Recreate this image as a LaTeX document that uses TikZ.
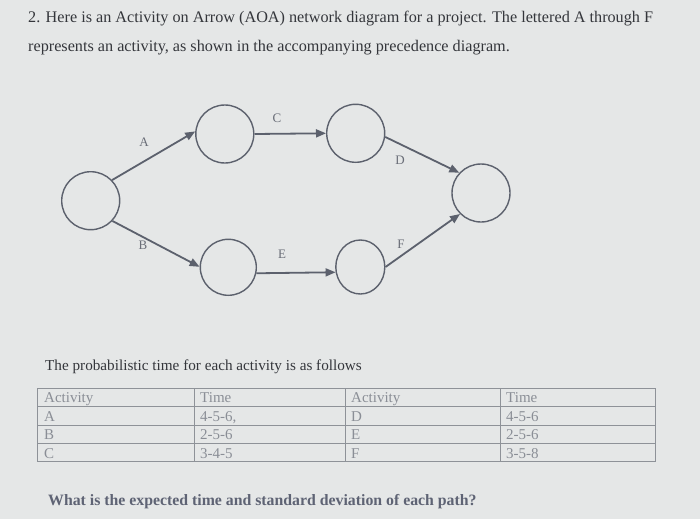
\documentclass[tikz,border=0pt]{standalone}
\usepackage{fontspec}
\setmainfont{Liberation Serif}
\usetikzlibrary{arrows.meta,shapes.geometric}
\definecolor{bg}{HTML}{E5E7E7}
\definecolor{ink}{HTML}{34363B}
\definecolor{edgec}{HTML}{5C616D}
\definecolor{lbl}{HTML}{6A6E78}
\definecolor{tbl}{HTML}{8E9298}
\definecolor{tbltxt}{HTML}{8A8E96}
\definecolor{qtxt}{HTML}{5E6374}
\begin{document}
\begin{tikzpicture}[x=1pt,y=-1pt,
 event/.style={circle,draw=edgec,line width=1.4pt,minimum size=58pt,inner sep=0pt},
 eventoval/.style={ellipse,draw=edgec,line width=1.4pt,minimum width=49pt,minimum height=54pt,inner sep=0pt},
 act/.style={draw=edgec,line width=1.8pt,-{Triangle[length=10pt,width=8pt]}},
 lab/.style={text=lbl,font=\fontsize{13}{13}\selectfont,inner sep=0pt},
 head/.style={anchor=base west,text=ink,font=\fontsize{16.2}{16.2}\selectfont,inner sep=0pt},
 cell/.style={anchor=base west,text=tbltxt,font=\fontsize{15}{15}\selectfont,inner sep=0pt},
 gridline/.style={draw=tbl,line width=1pt},
 quest/.style={anchor=base west,text=qtxt,font=\bfseries\fontsize{15.8}{15.8}\selectfont,inner sep=0pt}]
\fill[bg] (0,0) rectangle (700,519);
\useasboundingbox (0,0) rectangle (700,519);

% heading
\node[head] (h1) at (28,23) {2. Here is an Activity on Arrow (AOA) network diagram for a project. The lettered A through F};
\node[head] (h2) at (28,52) {represents an activity, as shown in the accompanying precedence diagram.};

% network
\node[event] (s) at (90.7,200.7) {};
\node[event] (a) at (224.8,134) {};
\node[event] (c) at (355.7,133.3) {};
\node[event] (t) at (481,193) {};
\node[event,minimum size=56pt] (b) at (228.3,267.3) {};
\node[eventoval] (e) at (360.3,267) {};

\draw[act] (s.44) -- (a.175);
\draw[act] (a.0) -- (c.180);
\draw[act] (c.-7) -- (t.137);
\draw[act] (s.-43) -- (b.179);
\draw[act] (b.-12) -- (e.192);
\draw[act] (e.0) -- (t.225);

\node[lab] (la) at (144,142) {A};
\node[lab] (lc) at (277,118) {C};
\node[lab] (ld) at (400,160) {D};
\node[lab] (lb) at (143,245) {B};
\node[lab] (le) at (282,254) {E};
\node[lab] (lf) at (401,244) {F};

% table
\node[anchor=base west,text=ink,font=\fontsize{15.2}{15.2}\selectfont,inner sep=0pt] (title) at (45,370) {The probabilistic time for each activity is as follows};

\foreach \y in {388,406.5,425,443.5,461.5} \draw[gridline] (37,\y) -- (655,\y);
\foreach \x in {37,194,345,500,655} \draw[gridline] (\x,388) -- (\x,461.5);

\node[cell] (r0a) at (44,402.5) {Activity};
\node[cell] (r0b) at (200,402.5) {Time};
\node[cell] (r0c) at (351,402.5) {Activity};
\node[cell] (r0d) at (506,402.5) {Time};
\node[cell] (r1a) at (44,421) {A};
\node[cell] (r1b) at (200,421) {4-5-6,};
\node[cell] (r1c) at (351,421) {D};
\node[cell] (r1d) at (506,421) {4-5-6};
\node[cell] (r2a) at (44,439.5) {B};
\node[cell] (r2b) at (200,439.5) {2-5-6};
\node[cell] (r2c) at (351,439.5) {E};
\node[cell] (r2d) at (506,439.5) {2-5-6};
\node[cell] (r3a) at (44,458) {C};
\node[cell] (r3b) at (200,458) {3-4-5};
\node[cell] (r3c) at (351,458) {F};
\node[cell] (r3d) at (506,458) {3-5-8};

\node[quest] (q) at (48,505) {What is the expected time and standard deviation of each path?};
\end{tikzpicture}
\end{document}
